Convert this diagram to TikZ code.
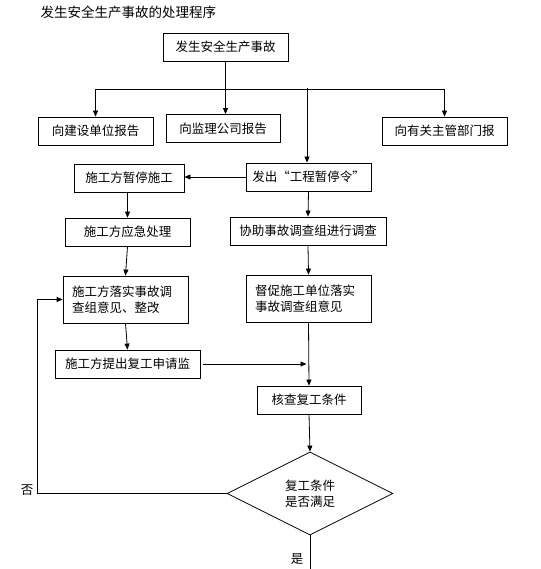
\documentclass[tikz,border=0pt]{standalone}
\usepackage{fontspec}
\setmainfont{Noto Sans CJK SC}
\usetikzlibrary{arrows.meta,shapes.geometric}

\tikzset{
  box/.style={draw, line width=0.8pt, minimum height=28pt, inner sep=0pt,
    font=\fontsize{12.5}{16}\selectfont},
  tallbox/.style={box, minimum height=47pt, align=left, text width=107pt,
    inner xsep=9pt},
  arr/.style={-{Triangle[length=6pt,width=5pt]}, line width=0.8pt},
  link/.style={line width=0.8pt},
}

\begin{document}
\begin{tikzpicture}[x=1pt,y=-1pt]
\useasboundingbox (0,0) rectangle (540,569);

\node[anchor=west, font=\fontsize{13.5}{16}\selectfont] (title) at (37,12) {发生安全生产事故的处理程序};

\node[box, minimum width=125pt] (accident) at (225.5,47) {发生安全生产事故};
\node[box, minimum width=115pt] (owner) at (95.5,131) {向建设单位报告};
\node[box, minimum width=114pt] (super) at (223,128.5) {向监理公司报告};
\node[box, minimum width=125pt] (authority) at (444.5,131) {向有关主管部门报};
\node[box, minimum width=125pt] (order) at (308.5,177) {发出“工程暂停令”};
\node[box, minimum width=110pt] (halt) at (129,178) {施工方暂停施工};
\node[box, minimum width=125pt] (emerg) at (127.5,232) {施工方应急处理};
\node[box, minimum width=156pt] (assist) at (308,231) {协助事故调查组进行调查};
\node[tallbox] (rectify) at (125.5,299.5) {施工方落实事故调\\查组意见、整改};
\node[tallbox] (urge) at (308.5,298.5) {督促施工单位落实\\事故调查组意见};
\node[box, minimum width=145pt] (apply) at (127.5,364) {施工方提出复工申请监};
\node[box, minimum width=104pt] (check) at (309,400) {核查复工条件};
\node[draw, link, diamond, minimum width=166pt, minimum height=83pt, inner sep=0pt,
  align=center, font=\fontsize{12.5}{16}\selectfont] (decide) at (310,493.5) {复工条件\\是否满足};

\coordinate (bus) at (0,89);
\coordinate (split) at (307,88);
\coordinate (loop) at (37,0);
\coordinate (exit) at (0,569);

% reports
\draw[arr] (accident.south) -- (accident.south |- super.north);
\draw[link] (owner.north |- bus) -- (authority.north |- bus);
\draw[arr] (owner.north |- bus) -- (owner.north);
\draw[arr] (authority.north |- bus) -- (authority.north);
\draw[arr] (split) -- (split |- order.north);

% left column
\draw[arr] (order.west) -- (halt.east |- order.west);
\draw[arr] (halt.south -| emerg.north) -- (emerg.north);
\draw[arr] (emerg.south) -- (rectify.north);
\draw[arr] (rectify.south) -- (apply.north);
\draw[arr, shorten <=3pt, shorten >=2pt] (apply.east) -- (apply.east -| urge.south);

% right column
\draw[arr] (order.south) -- (assist.north);
\draw[arr] (assist.south) -- (urge.north);
\draw[arr] (urge.south) -- (check.north);
\draw[arr] (check.south) -- (decide.north);

% decision
\draw[arr] (decide.west) -- (decide.west -| loop) |- (rectify.west);
\draw[link] (decide.south) -- (decide.south |- exit);
\node[font=\fontsize{12.5}{16}\selectfont] (no) at (27,490) {否};
\node[font=\fontsize{12.5}{16}\selectfont] (yes) at (297,559) {是};
\end{tikzpicture}
\end{document}
